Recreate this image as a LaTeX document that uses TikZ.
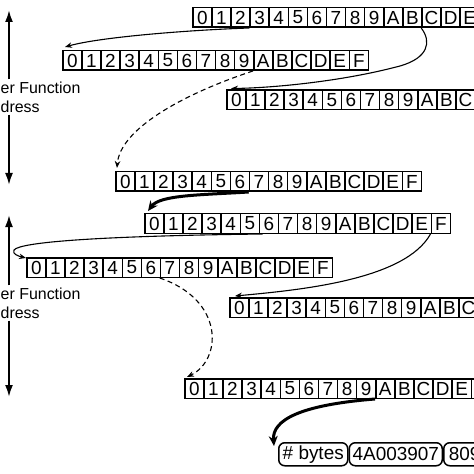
\documentclass[tikz,border=0pt]{standalone}
\usepackage{fontspec}
\setmainfont{Liberation Sans}
\usetikzlibrary{arrows.meta}
\newcommand\hexrow[3]{%
  \foreach \d [count=\i from 0] in {0,1,2,3,4,5,6,7,8,9,A,B,C,D,E,F}{%
    \node[cell] (#1-\d) at ({#2+\i*19.1},#3) {\d};}}
\begin{document}
\begin{tikzpicture}[x=1bp,y=-1bp,
  cell/.style={draw, line width=1.5bp, minimum width=19.1bp, minimum height=19.5bp,
    inner sep=0pt, anchor=north west, font=\fontsize{19}{19}\selectfont},
  bbox/.style={draw, line width=1.5bp, rounded corners=6bp, minimum height=23bp,
    inner sep=0pt, anchor=north west, font=\fontsize{19}{19}\selectfont},
  conn/.style={line width=1.1bp, -{Stealth[length=7bp,width=5.5bp]}},
  dconn/.style={conn, dash pattern=on 5bp off 3.5bp},
  heavyconn/.style={line width=3bp, -{Stealth[length=10bp,width=9bp]}},
  vline/.style={line width=2bp, -{Latex[length=12bp,width=8bp]}},
  lbl/.style={anchor=west, align=left, inner sep=2bp, font=\fontsize{16}{19}\selectfont}
]
\useasboundingbox (0,0) rectangle (474,474);
\clip (0,0) rectangle (474,474);

% rows of cells
\hexrow{r1}{192}{7}
\hexrow{r2}{62}{50}
\hexrow{r3}{226}{89.5}
\hexrow{r4}{115}{171}
\hexrow{r5}{144}{213}
\hexrow{r6}{26}{257}
\hexrow{r7}{229}{297}
\hexrow{r8}{184}{378}

% bottom boxes
\node[bbox, minimum width=69bp] (bytes) at (278,442) {\# bytes};
\path (bytes.north east) node[bbox, minimum width=93bp] (addr) {4A003907};
\path (addr.north east) node[bbox, minimum width=80bp, text width=72bp, align=left,
  inner xsep=5bp] (nxt) {809};

% left labels and arrows
\node[lbl] (lab1) at (-1.5,97) {er Function\\dress};
\coordinate (a1t) at (9,10);
\coordinate (a1b) at (9,185);
\draw[vline] (lab1.north -| a1t) -- (a1t);
\draw[vline] (lab1.south -| a1b) -- (a1b);

\node[lbl] (lab2) at (-1.5,303) {er Function\\dress};
\coordinate (a2t) at (9,215);
\coordinate (a2b) at (9,397);
\draw[vline] (lab2.north -| a2t) -- (a2t);
\draw[vline] (lab2.south -| a2b) -- (a2b);

% connectors
\draw[conn] (r1-3.south west) .. controls (190,30) and (100,37) .. ([shift={(3,-3)}]r2-0.north west);
\draw[conn] (r1-C.south west) .. controls (432,42) and (428,58) .. (400,66)
   .. controls (340,82) and (270,88) .. ([shift={(5,-1)}]r3-0.north west);
\draw[dconn] (r2-A.south west) .. controls (180,95) and (120,130) .. ([shift={(2,-3)}]r4-0.north west);
\draw[heavyconn] (r4-7.south west) .. controls (200,195) and (160,195) .. ([shift={(4,-2)}]r5-0.north west);
\draw[conn] ([shift={(4,0)}]r5-6.south west) .. controls (100,236) and (20,242) .. (14,250)
   .. controls (12,254) and (18,256) .. ([shift={(0,1)}]r6-0.north west);
\draw[conn] (r5-F.south west) .. controls (405,280) and (300,290) .. ([shift={(6,-1)}]r7-0.north west);
\draw[dconn] (r6-7.south west) .. controls (225,300) and (222,360) .. ([shift={(3,-1)}]r8-0.north west);
\draw[heavyconn] (r8-A.south west) .. controls (300,405) and (272,420) .. ([shift={(-4,4)}]bytes.north west);
\end{tikzpicture}
\end{document}
